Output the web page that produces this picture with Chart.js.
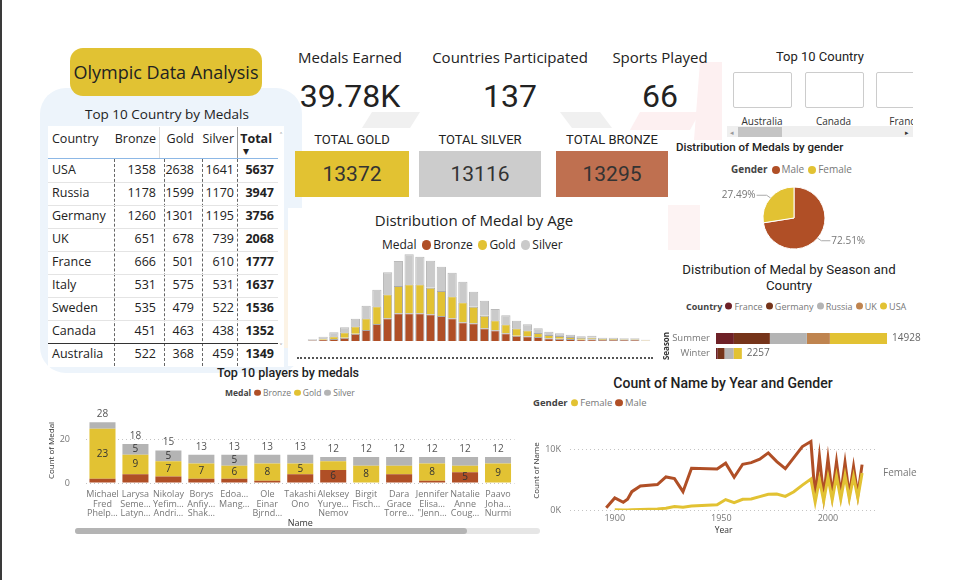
<!DOCTYPE html>
<html><head><meta charset="utf-8">
<script src="https://cdn.jsdelivr.net/npm/chart.js@4.4.1/dist/chart.umd.min.js"></script>
<style>
body{margin:0;background:#fff;}
#page{position:relative;width:957px;height:580px;background:#fff;overflow:hidden;font-family:"Open Sans","Noto Sans",sans-serif;color:#222;}
.a{position:absolute;white-space:nowrap;}
canvas{position:absolute;}
</style></head>
<body><div id="page">
<svg class="a" style="left:0;top:0" width="957" height="580">
  <rect x="40" y="88" width="262" height="285" rx="26" fill="#EDF4FB"/>
  <polygon points="272,230 300,230 300,348 272,348" fill="#FCF3E5"/>
  <polygon points="372,112 420,112 410,128 362,128" fill="#F0F0F0"/>
  <polygon points="560,112 600,112 612,128 572,128" fill="#F0F0F0"/>
  <polygon points="640,112 700,112 690,130 630,130" fill="#FDF0F1"/>
  <polygon points="700,62 722,62 722,140 694,140" fill="#FDF0F1"/>
  <polygon points="668,205 700,205 700,250 668,250" fill="#FDF3F3"/>
  <rect x="0" y="0" width="2" height="580" fill="#3a3a3a"/>
</svg>
<div id="html"></div>
<canvas id="ageChart" width="344" height="91" style="left:307px;top:250px"></canvas>
<canvas id="pieChart" width="160" height="80" style="left:714px;top:178px"></canvas>
<canvas id="seasonChart" width="290" height="36" style="left:662px;top:325px"></canvas>
<canvas id="playerChart" width="500" height="125" style="left:40px;top:405px"></canvas>
<canvas id="lineChart" width="400" height="112" style="left:530px;top:425px"></canvas>
</div>
<script>
// ---------------- DATA ----------------
const countries = ["USA","Russia","Germany","UK","France","Italy","Sweden","Canada","Australia"];
const countryBronze = [1358,1178,1260,651,666,531,535,451,522];
const countryGold   = [2638,1599,1301,678,501,575,479,463,368];
const countrySilver = [1641,1170,1195,739,610,531,522,438,459];

const kpiLabels = ["Medals Earned","Countries Participated","Sports Played"];
const kpiValues = ["39.78K","137","66"];
const medalCardLabels = ["TOTAL GOLD","TOTAL SILVER","TOTAL BRONZE"];
const medalCardValues = [13372,13116,13295];

const slicerCountries = ["Australia","Canada","France"];

const ages = [14,15,16,17,18,19,20,21,22,23,24,25,26,27,28,29,30,31,32,33,34,35,36,37,38,39,40,41,42,43,44,45];
const ageBronze = [26,52,78,130,286,429,663,884,1079,1079,1079,1040,975,884,728,689,494,416,299,208,182,156,104,91,78,52,65,39,39,39,39,13];
const ageGold   = [13,52,104,208,286,455,689,936,1066,1131,1131,1040,975,858,780,650,494,390,351,286,234,156,130,104,78,65,65,39,39,26,26,13];
const ageSilver = [26,65,156,195,299,494,650,858,975,1170,1079,1053,949,923,806,585,585,442,351,299,234,182,130,104,91,65,78,52,52,39,39,26];

const genderLabels = ["Male","Female"];
const genderShare = [72.51,27.49];

const seasons = ["Summer","Winter"];
const seasonCountries = ["France","Germany","Russia","UK","USA"];
const seasonFrance  = [1560,150];
const seasonGermany = [3140,590];
const seasonRussia  = [3230,780];
const seasonUK      = [2010,30];
const seasonUSA     = [4988,707];

const playerNames = [["Michael","Fred","Phelp\u2026"],["Larysa","Seme\u2026","Latyn\u2026"],["Nikolay","Yefim\u2026","Andri\u2026"],["Borys","Anfiy\u2026","Shak\u2026"],["Edoa\u2026","Mang\u2026"],["Ole","Einar","Bjrnd\u2026"],["Takashi","Ono"],["Aleksey","Yurye\u2026","Nemov"],["Birgit","Fisch\u2026"],["Dara","Grace","Torre\u2026"],["Jennifer","Elisa\u2026","\"Jenn\u2026"],["Natalie","Anne","Coug\u2026"],["Paavo","Joha\u2026","Nurmi"]];
const playerBronze = [2,4,3,2,2,1,4,6,0,4,1,5,0];
const playerGold   = [23,9,7,7,6,8,5,4,8,4,8,3,9];
const playerSilver = [3,5,5,4,5,4,4,2,4,4,3,4,3];

const years = [1896,1900,1904,1906,1908,1912,1920,1924,1928,1932,1936,1948,1952,1956,1960,1964,1968,1972,1976,1980,1984,1988,1992,1994,1996,1998,2000,2002,2004,2006,2008,2010,2012,2014,2016];
const maleCount   = [380,1980,1260,1760,3020,3960,4180,5440,5160,3020,6870,6760,7700,5380,7530,7800,8350,9400,7970,6810,8630,10440,11260,2090,8790,2200,8460,2470,7910,2580,7800,2470,7140,2470,7470];
const femaleCount = [null,30,10,10,50,100,180,300,560,460,650,850,1720,1200,1760,1800,2200,2580,2640,2250,3000,4100,5100,1300,5000,1500,5400,1700,5600,1800,5700,1900,5500,2000,6100];

// ---------------- STYLE ----------------
const SEG = '"Open Sans","Noto Sans",sans-serif';
const DIN = 'Roboto,sans-serif';
const BRONZE = '#B04F26', GOLD = '#E2C233', SILVER = '#CACACA', SILVER2 = '#B4B4B4';

const H = document.getElementById('html');
function txt(t, x, y, o={}) {
  const d = document.createElement('div');
  d.className = 'a';
  d.textContent = t;
  const ax = o.ax ?? 0.5;
  d.style.left = x + 'px'; d.style.top = y + 'px';
  d.style.transform = `translate(${-ax*100}%,-50%)`;
  d.style.fontSize = (o.size || 12) + 'px';
  d.style.fontFamily = o.font || SEG;
  d.style.color = o.color || '#222';
  if (o.bold) d.style.fontWeight = o.bold === true ? '700' : o.bold;
  d.style.lineHeight = '1';
  if (o.extra) Object.assign(d.style, o.extra);
  H.appendChild(d);
  return d;
}
function box(x, y, w, h, style) {
  const d = document.createElement('div');
  d.className = 'a';
  Object.assign(d.style, {left:x+'px', top:y+'px', width:w+'px', height:h+'px'}, style);
  H.appendChild(d);
  return d;
}
function legend(items, x, y, size, titleTxt, titleBold, gap) {
  const d = document.createElement('div');
  d.className='a';
  d.style.left=x+'px'; d.style.top=y+'px'; d.style.transform='translateY(-50%)';
  d.style.fontSize=size+'px'; d.style.lineHeight='1'; d.style.fontFamily=SEG;
  let h = `<span style="color:${titleBold?'#444':'#222'};font-weight:${titleBold?700:400}">${titleTxt}</span>`;
  items.forEach(([lab,col,tc])=>{
    h += `<span style="display:inline-block;width:${size*0.8}px;height:${size*0.8}px;border-radius:50%;background:${col};margin-left:${gap}px;margin-right:2px;vertical-align:${-size*0.05}px"></span><span style="color:${tc}">${lab}</span>`;
  });
  d.innerHTML = h;
  H.appendChild(d);
}

// Title box
box(70,48,192,48,{background:'#E1C233',borderRadius:'13px'});
txt('Olympic Data Analysis',166,72,{size:18});

// Table
txt('Top 10 Country by Medals',167,115,{size:13.5});
box(48,126,236,241,{background:'#fff'});
const colRight = [156,194,234,274];
txt('Country',52,139,{ax:0,size:12.5});
txt('Bronze',156,139,{ax:1,size:12.5});
txt('Gold',194,139,{ax:1,size:12.5});
txt('Silver',234,139,{ax:1,size:12.5});
txt('Total',272,139,{ax:1,size:12.5,bold:true});
txt('\u25BE',246,151,{size:12,color:'#222'});
txt('\u02C4',281,135,{size:9,color:'#888'});
txt('\u02C5',281,346,{size:9,color:'#888'});
box(159,127,1,31,{background:'#ddd'});
box(237,127,1,31,{background:'#999'});
box(48,158,230,1,{background:'#8DB8E6'});
[114,164,202,237].forEach(x=>box(x,159,0,207,{borderLeft:'1px dashed #666'}));
countries.forEach((c,i)=>{
  const y = 170 + i*23.0;
  txt(c,52,y,{ax:0,size:12.5});
  txt(String(countryBronze[i]),colRight[0],y,{ax:1,size:12.5});
  txt(String(countryGold[i]),colRight[1],y,{ax:1,size:12.5});
  txt(String(countrySilver[i]),colRight[2],y,{ax:1,size:12.5});
  txt(String(countryBronze[i]+countryGold[i]+countrySilver[i]),colRight[3],y,{ax:1,size:12.5,bold:true});
  if (i < countries.length-1) box(48,y+11.5,230,1,{background: i===countries.length-2 ? '#333' : '#e4e4e4'});
});

// KPIs
[350,510,660].forEach((cx,i)=>{
  txt(kpiLabels[i],cx,57,{size:15});
  txt(kpiValues[i],cx,96,{size:32,font:DIN});
});
const cardX = [[295,114],[419,122],[556,112]];
const cardCol = ['#E2C232','#CCCCCC','#BF7050'];
cardX.forEach(([x,w],i)=>{
  txt(medalCardLabels[i],x+w/2,139,{size:13,font:DIN,color:'#222'});
  box(x,151,w,46,{background:cardCol[i]});
  txt(String(medalCardValues[i]),x+w/2,174,{size:21,font:DIN,color:'#333'});
});

// Age panel
box(288,208,380,158,{background:'#fff'});
txt('Distribution of Medal by Age',474,220,{size:15});
legend([['Bronze',BRONZE,'#222'],['Gold',GOLD,'#222'],['Silver',SILVER,'#222']],382,245,12,'Medal',false,5);
box(297,357,356,0,{borderTop:'2px dotted #555'});

// Slicer
txt('Top 10 Country',820,56,{size:13,font:DIN});
const slicer = box(727,66,186,72,{overflow:'hidden'});
slicerCountries.forEach((c,i)=>{
  const b = document.createElement('div');
  Object.assign(b.style,{position:'absolute',left:(6+i*71.5)+'px',top:'6px',width:'57px',height:'34px',border:'1.5px solid #ccc',borderRadius:'2px',background:'#fff'});
  slicer.appendChild(b);
  const t = document.createElement('div');
  Object.assign(t.style,{position:'absolute',left:(35+i*71.5)+'px',top:'55px',transform:'translate(-50%,-50%)',fontSize:'10px',fontFamily:SEG,color:'#333',whiteSpace:'nowrap',lineHeight:'1'});
  t.textContent=c;
  slicer.appendChild(t);
});
box(727,126,186,11,{background:'#EFEFEF'});
box(738,127,44,10,{background:'#C4C4C4'});
txt('\u25C2',732,132,{size:7,color:'#999'});
txt('\u25B8',907,132,{size:7,color:'#333'});

// Pie labels
txt('Distribution of Medals by gender',676,148,{ax:0,size:11.5,font:DIN,color:'#222',bold:500});
legend([['Male',BRONZE,'#777'],['Female',GOLD,'#777']],731,169,10,'Gender',true,4);

// Season
txt('Distribution of Medal by Season and',789,270,{size:13.3,font:DIN});
txt('Country',789,286,{size:13.3,font:DIN});
legend([['France','#6E2127','#777'],['Germany','#75341A','#777'],['Russia','#B4B4B4','#777'],['UK','#BF844F','#777'],['USA',GOLD,'#777']],686,306,9,'Country',true,3);

// Players
txt('Top 10 players by medals',288,373,{size:12.5,font:DIN,bold:500});
legend([['Bronze',BRONZE,'#777'],['Gold',GOLD,'#777'],['Silver',SILVER2,'#777']],225,393,8.5,'Medal',true,3);
box(75,528,465,6,{background:'#E6E6E6',borderRadius:'3px'});
box(75,528,392,6,{background:'#B4B4B4',borderRadius:'3px'});

// Line
txt('Count of Name by Year and Gender',723,383,{size:14,font:DIN,bold:500});
legend([['Female',GOLD,'#777'],['Male',BRONZE,'#777']],533,403,9.5,'Gender',true,3);

// ---------------- CHARTS ----------------
Chart.defaults.font.family = SEG;
Chart.defaults.animation = false;
Chart.defaults.responsive = false;
Chart.defaults.devicePixelRatio = 1;
Chart.defaults.plugins.legend.display = false;
Chart.defaults.plugins.tooltip.enabled = false;

function noPad(s){ s.paddingTop = 0; s.paddingBottom = 0; s.paddingLeft = 0; s.paddingRight = 0; }

new Chart(document.getElementById('ageChart'), {
  type:'bar',
  data:{labels:ages, datasets:[
    {label:'Bronze',data:ageBronze,backgroundColor:BRONZE,borderColor:'rgba(100,100,100,0.55)',borderWidth:1},
    {label:'Gold',data:ageGold,backgroundColor:GOLD,borderColor:'rgba(100,100,100,0.55)',borderWidth:1},
    {label:'Silver',data:ageSilver,backgroundColor:SILVER,borderColor:'rgba(140,140,140,0.6)',borderWidth:1}
  ]},
  options:{
    layout:{padding:0},
    datasets:{bar:{barPercentage:0.86,categoryPercentage:1}},
    scales:{x:{stacked:true,display:false},y:{stacked:true,display:false,min:0,max:3550}}
  }
});

new Chart(document.getElementById('pieChart'), {
  type:'pie',
  data:{labels:genderLabels, datasets:[{data:genderShare, backgroundColor:[BRONZE,GOLD], borderColor:'#fff', borderWidth:1, radius:31}]},
  options:{layout:{padding:0}},
  plugins:[{id:'pieLabels',afterDatasetsDraw(chart){
    const ctx=chart.ctx, meta=chart.getDatasetMeta(0);
    ctx.save(); ctx.font='10px '+SEG; ctx.fillStyle='#777'; ctx.strokeStyle='#aaa'; ctx.lineWidth=1;
    meta.data.forEach((arc,i)=>{
      const mid=(arc.startAngle+arc.endAngle)/2, r=arc.outerRadius;
      const x0=arc.x+Math.cos(mid)*r, y0=arc.y+Math.sin(mid)*r;
      const x1=arc.x+Math.cos(mid)*(r+5), y1=arc.y+Math.sin(mid)*(r+4);
      const right=Math.cos(mid)>=0, x2=x1+(right?9:-10);
      ctx.beginPath(); ctx.moveTo(x0,y0); ctx.lineTo(x1,y1); ctx.lineTo(x2,y1); ctx.stroke();
      ctx.textAlign=right?'left':'right'; ctx.textBaseline='middle';
      ctx.fillText(genderShare[i].toFixed(2)+'%', x2+(right?1:-1), y1);
    });
    ctx.restore();
  }}]
});

const seasonSets = [seasonFrance,seasonGermany,seasonRussia,seasonUK,seasonUSA];
const seasonCols = ['#6E2127','#75341A','#B4B4B4','#BF844F',GOLD];
new Chart(document.getElementById('seasonChart'), {
  type:'bar',
  data:{labels:seasons, datasets:seasonCountries.map((c,i)=>({label:c,data:seasonSets[i],backgroundColor:seasonCols[i]}))},
  options:{
    indexAxis:'y',
    layout:{padding:{top:6,right:0,bottom:0,left:0}},
    datasets:{bar:{barPercentage:0.73,categoryPercentage:1}},
    scales:{
      x:{stacked:true,display:false,min:0,max:20600},
      y:{stacked:true,grid:{display:false,drawTicks:false},border:{display:false},
         ticks:{color:'#777',font:{size:9.5},padding:6},
         title:{display:true,text:'Season',color:'#333',font:{size:8,weight:'bold'},padding:0},
         afterFit(s){s.width=54; noPad(s);}}
    }
  },
  plugins:[{id:'seasonTotals',afterDatasetsDraw(chart){
    const ctx=chart.ctx; ctx.save(); ctx.font='10px '+SEG; ctx.fillStyle='#666'; ctx.textBaseline='middle';
    seasons.forEach((s,i)=>{
      const tot = seasonSets.reduce((a,d)=>a+d[i],0);
      const bar = chart.getDatasetMeta(seasonSets.length-1).data[i];
      ctx.fillText(String(tot), bar.x+5, bar.y);
    });
    ctx.restore();
  }}]
});

new Chart(document.getElementById('playerChart'), {
  type:'bar',
  data:{labels:playerNames, datasets:[
    {label:'Bronze',data:playerBronze,backgroundColor:BRONZE},
    {label:'Gold',data:playerGold,backgroundColor:GOLD},
    {label:'Silver',data:playerSilver,backgroundColor:SILVER2}
  ]},
  options:{
    layout:{padding:{top:13,right:25.5,bottom:0,left:0}},
    datasets:{bar:{barPercentage:0.79,categoryPercentage:1}},
    scales:{
      x:{stacked:true,grid:{display:false,drawTicks:false},border:{display:false},
         ticks:{color:'#777',font:{size:9,lineHeight:1.05},padding:7,maxRotation:0,autoSkip:false},
         title:{display:true,text:'Name',color:'#333',font:{size:9},padding:{top:0,bottom:1.5}},
         afterFit(s){s.height=47; noPad(s);}},
      y:{stacked:true,min:0,max:30,
         afterBuildTicks(s){s.ticks=[{value:0},{value:20}];},
         grid:{color:'#c4c4c4',drawTicks:false},border:{display:false,dash:[1,3]},
         ticks:{color:'#777',font:{size:9},padding:16},
         title:{display:true,text:'Count of Medal',color:'#333',font:{size:8},padding:{top:7,bottom:0}},
         afterFit(s){s.width=46; noPad(s);}}
    }
  },
  plugins:[{id:'playerLabels',afterDatasetsDraw(chart){
    const ctx=chart.ctx; ctx.save(); ctx.textAlign='center'; ctx.textBaseline='middle';
    const sets=[playerBronze,playerGold,playerSilver];
    sets.forEach((d,di)=>{
      chart.getDatasetMeta(di).data.forEach((bar,i)=>{
        if (d[i]>=5) { ctx.font='10px '+SEG; ctx.fillStyle='#333'; ctx.fillText(String(d[i]), bar.x, (bar.y+bar.base)/2); }
      });
    });
    chart.getDatasetMeta(2).data.forEach((bar,i)=>{
      const tot=playerBronze[i]+playerGold[i]+playerSilver[i];
      ctx.font='10px '+SEG; ctx.fillStyle='#555'; ctx.fillText(String(tot), bar.x, bar.y-8);
    });
    ctx.restore();
  }}]
});

new Chart(document.getElementById('lineChart'), {
  type:'line',
  data:{labels:years, datasets:[
    {label:'Female',data:years.map((y,i)=>({x:y,y:femaleCount[i]})),borderColor:GOLD,borderWidth:3,pointRadius:0,tension:0},
    {label:'Male',data:years.map((y,i)=>({x:y,y:maleCount[i]})),borderColor:BRONZE,borderWidth:3,pointRadius:0,tension:0}
  ]},
  options:{
    layout:{padding:{top:6,right:53,bottom:0,left:0}},
    scales:{
      x:{type:'linear',min:1879,max:2023,afterBuildTicks(s){s.ticks=[{value:1900},{value:1950},{value:2000}];},
         grid:{display:false,drawTicks:false},border:{display:false},
         ticks:{color:'#777',font:{size:9},padding:3,callback:v=>String(v)},
         title:{display:true,text:'Year',color:'#333',font:{size:8.5},padding:{top:0,bottom:1.5}},
         afterFit(s){s.height=27; noPad(s);}},
      y:{min:0,max:13000,afterBuildTicks(s){s.ticks=[{value:0},{value:10000}];},
         grid:{color:'#c4c4c4',drawTicks:false},border:{display:false,dash:[1,3]},
         ticks:{color:'#777',font:{size:9},padding:9,callback:v=>(v/1000)+'K'},
         title:{display:true,text:'Count of Name',color:'#333',font:{size:8},padding:{top:2,bottom:0}},
         afterFit(s){s.width=40; noPad(s);}}
    }
  },
  plugins:[{id:'endLabel',afterDatasetsDraw(chart){
    const ctx=chart.ctx, pts=chart.getDatasetMeta(0).data, p=pts[pts.length-1];
    ctx.save(); ctx.font='10px '+SEG; ctx.fillStyle='#777'; ctx.textBaseline='middle';
    ctx.fillText('Female', chart.chartArea.right+6, p.y); ctx.restore();
  }}]
});
</script>
</body></html>
